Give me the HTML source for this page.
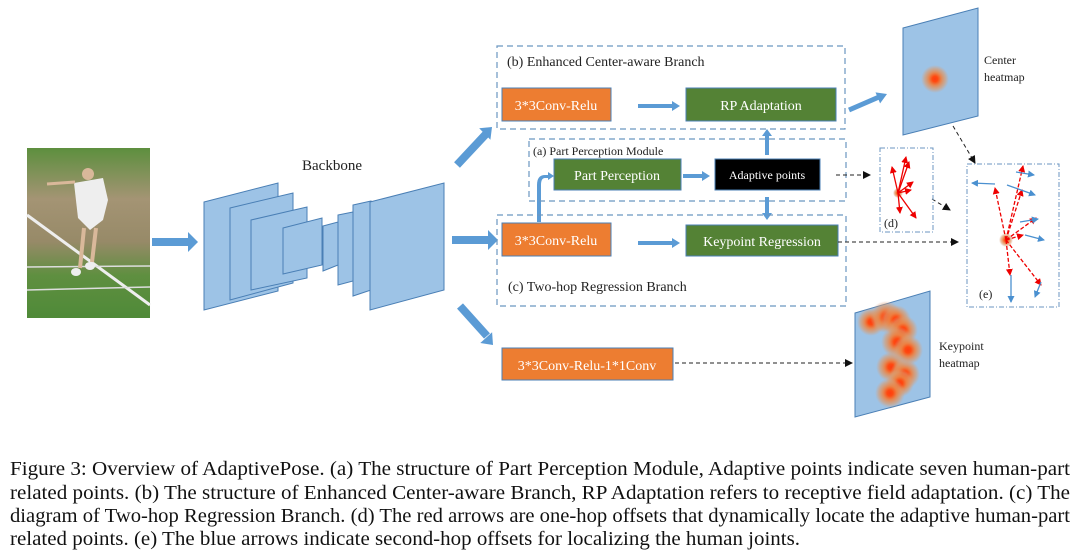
<!DOCTYPE html>
<html><head><meta charset="utf-8"><style>
html,body{margin:0;padding:0;background:#fff;}
svg{display:block;font-family:"Liberation Serif",serif;}
</style></head><body>
<svg width="1080" height="555" viewBox="0 0 1080 555" xmlns="http://www.w3.org/2000/svg">
<defs>
<marker id="ak" markerWidth="8" markerHeight="8" refX="7" refY="4" orient="auto" markerUnits="userSpaceOnUse"><path d="M0,0 L8,4 L0,8 z" fill="#111"/></marker>
<marker id="ar" markerWidth="7" markerHeight="7" refX="6" refY="3.5" orient="auto" markerUnits="userSpaceOnUse"><path d="M0,0 L7,3.5 L0,7 z" fill="#e00"/></marker>
<marker id="ab" markerWidth="7" markerHeight="7" refX="6" refY="3.5" orient="auto" markerUnits="userSpaceOnUse"><path d="M0,0 L7,3.5 L0,7 z" fill="#4a90d0"/></marker>
<radialGradient id="glow"><stop offset="0" stop-color="#ff3b10"/><stop offset="0.2" stop-color="#ff4a10"/><stop offset="0.45" stop-color="#ee8040" stop-opacity="0.9"/><stop offset="0.75" stop-color="#dc9a6a" stop-opacity="0.6"/><stop offset="1" stop-color="#d8a080" stop-opacity="0"/></radialGradient>
<linearGradient id="grass" x1="0" y1="0" x2="0" y2="1"><stop offset="0" stop-color="#5d8f3e"/><stop offset="0.3" stop-color="#a49474"/><stop offset="0.55" stop-color="#978a68"/><stop offset="0.75" stop-color="#5f8f40"/><stop offset="1" stop-color="#4f8a38"/></linearGradient>
</defs>

<!-- photo -->
<rect x="27" y="148" width="123" height="170" fill="url(#grass)"/>
<path d="M27,215 L150,305" stroke="#eee" stroke-width="3"/>
<path d="M27,267 L150,266" stroke="#ddd" stroke-width="1.5"/>
<path d="M27,290 L150,287" stroke="#ddd" stroke-width="1.5"/>
<path d="M74,183 L103,178 L108,200 L103,220 L90,230 L78,218 Z" fill="#eee"/>
<circle cx="88" cy="174" r="6" fill="#d9b89a"/>
<path d="M47,184 L75,182" stroke="#d9b89a" stroke-width="3"/>
<path d="M84,228 L80,268 M96,228 L92,262" stroke="#d9b89a" stroke-width="4"/>
<ellipse cx="76" cy="272" rx="5" ry="4" fill="#eee"/><ellipse cx="90" cy="266" rx="5" ry="4" fill="#eee"/>

<!-- fat arrows -->
<g fill="#5b9bd5">
<path d="M152,238 L188,238 L188,232 L198,242 L188,252 L188,246 L152,246 Z"/>
<path d="M452,236 L488,236 L488,230 L498,240 L488,250 L488,244 L452,244 Z"/>
<path d="M638,104 L672,104 L672,101 L680,106 L672,111 L672,108 L638,108 Z"/>
<path d="M638,241 L672,241 L672,238 L680,243 L672,248 L672,245 L638,245 Z"/>
<path d="M683,174 L702,174 L702,171 L710,176 L702,181 L702,178 L683,178 Z"/>
<path d="M765,155 L765,136 L762,136 L767,129 L772,136 L769,136 L769,155 Z"/>
<path d="M765,197 L765,213 L762,213 L767,220 L772,213 L769,213 L769,197 Z"/>
<path d="M537,222 L537,185 Q537,175 545,175 L548,175 L548,172 L554,176 L548,180 L548,178 L545,178 Q541,178 541,185 L541,222 Z"/>
<polygon points="492,127 490.4,139.7 479.2,128.3"/>
<polygon points="493,345 492.1,332.2 480.3,343"/>
<polygon points="887,94 880.1,103.4 875.5,92.4"/>
</g>
<g stroke="#5b9bd5" fill="none">
<path d="M457,165 L486,134" stroke-width="8"/>
<path d="M460,306 L487,336" stroke-width="8"/>
<path d="M849,110 L879,97" stroke-width="5"/>
</g>

<!-- backbone -->
<g fill="#9dc3e6" stroke="#4a7fb5" stroke-width="1">
<path d="M204,202 L278,183 L278,291 L204,310 Z"/>
<path d="M230,208 L293,193 L293,283 L230,300 Z"/>
<path d="M251,220 L307,207 L307,278 L251,290 Z"/>
<path d="M283,228 L322,218 L322,265 L283,274 Z"/>
<path d="M323,226 L338,222 L338,265 L323,271 Z"/>
<path d="M338,215 L353,212 L353,281 L338,285 Z"/>
<path d="M353,205 L371,201 L371,290 L353,296 Z"/>
<path d="M370,202 L444,183 L444,290 L370,310 Z"/>
</g>
<text x="302" y="170" font-size="15" fill="#222">Backbone</text>

<!-- dashed boxes -->
<g fill="none" stroke="#6b96c0" stroke-width="1.2" stroke-dasharray="6,4">
<rect x="497" y="46" width="348" height="83"/>
<rect x="529" y="139" width="317" height="62"/>
<rect x="497" y="215" width="349" height="91"/>
</g>
<text x="507" y="66" font-size="14" fill="#222">(b) Enhanced Center-aware Branch</text>
<text x="533" y="155" font-size="12" fill="#222">(a) Part Perception Module</text>
<text x="508" y="291" font-size="14" fill="#222">(c) Two-hop Regression Branch</text>

<!-- blocks -->
<g stroke="#4a7fb5" stroke-width="1">
<rect x="502" y="88" width="109" height="33" fill="#ed7d31"/>
<rect x="686" y="88" width="150" height="33" fill="#548235"/>
<rect x="554" y="159" width="127" height="31" fill="#548235"/>
<rect x="715" y="159" width="105" height="31" fill="#000"/>
<rect x="502" y="223" width="109" height="33" fill="#ed7d31"/>
<rect x="686" y="225" width="152" height="31" fill="#548235"/>
<rect x="502" y="348" width="171" height="32" fill="#ed7d31"/>
</g>
<g fill="#fff" font-size="14" text-anchor="middle">
<text x="556" y="110">3*3Conv-Relu</text>
<text x="761" y="110">RP Adaptation</text>
<text x="617" y="180">Part Perception</text>
<text x="767" y="179" font-size="12">Adaptive points</text>
<text x="556" y="245">3*3Conv-Relu</text>
<text x="762" y="246">Keypoint Regression</text>
<text x="587" y="370">3*3Conv-Relu-1*1Conv</text>
</g>

<!-- dashed black connectors -->
<g stroke="#222" stroke-width="1" stroke-dasharray="4,3" fill="none" marker-end="url(#ak)">
<path d="M836,175 L870,175"/>
<path d="M838,242 L958,242"/>
<path d="M675,363 L852,363"/>
<path d="M953,126 L975,163"/>
<path d="M932,199 L950,210"/>
</g>

<!-- heatmaps -->
<path d="M903,28 L978,8 L978,116 L903,135 Z" fill="#9dc3e6" stroke="#4a7fb5"/>
<circle cx="935" cy="79" r="14" fill="url(#glow)"/>
<text x="984" y="64" font-size="12" fill="#222">Center</text>
<text x="984" y="81" font-size="12" fill="#222">heatmap</text>

<path d="M855,313 L930,291 L930,397 L855,417 Z" fill="#9dc3e6" stroke="#4a7fb5"/>
<g>
<circle cx="871" cy="322" r="14" fill="url(#glow)"/>
<circle cx="886" cy="317" r="16" fill="url(#glow)"/>
<circle cx="896" cy="320" r="15" fill="url(#glow)"/>
<circle cx="903" cy="330" r="15" fill="url(#glow)"/>
<circle cx="897" cy="342" r="16" fill="url(#glow)"/>
<circle cx="908" cy="350" r="15" fill="url(#glow)"/>
<circle cx="891" cy="367" r="15" fill="url(#glow)"/>
<circle cx="905" cy="374" r="15" fill="url(#glow)"/>
<circle cx="900" cy="383" r="14" fill="url(#glow)"/>
<circle cx="890" cy="393" r="15" fill="url(#glow)"/>
</g>
<text x="939" y="350" font-size="12" fill="#222">Keypoint</text>
<text x="939" y="367" font-size="12" fill="#222">heatmap</text>

<!-- (d) -->
<rect x="880" y="148" width="53" height="84" fill="none" stroke="#6b96c0" stroke-dasharray="5,2,1,2"/>
<circle cx="898" cy="193" r="5" fill="url(#glow)"/>
<g stroke="#e00" stroke-width="1.3" marker-end="url(#ar)">
<path d="M898,193 L892,167"/><path d="M898,193 L906,157"/><path d="M898,193 L909,162"/>
<path d="M898,193 L913,182"/><path d="M898,193 L911,190"/><path d="M898,193 L900,213"/><path d="M898,193 L916,218"/>
</g>
<text x="884" y="227" font-size="12" fill="#222">(d)</text>

<!-- (e) -->
<rect x="967" y="164" width="92" height="143" fill="none" stroke="#6b96c0" stroke-dasharray="5,2,1,2"/>
<circle cx="1006" cy="240" r="7" fill="url(#glow)"/>
<g stroke="#e00" stroke-width="1.3" stroke-dasharray="4,2" marker-end="url(#ar)">
<path d="M1006,240 L995,188"/><path d="M1006,240 L1023,166"/><path d="M1006,240 L1022,190"/>
<path d="M1006,240 L1036,218"/><path d="M1006,240 L1023,235"/><path d="M1006,240 L1010,275"/><path d="M1006,240 L1041,285"/>
</g>
<g stroke="#4a90d0" stroke-width="1.3" marker-end="url(#ab)">
<path d="M995,184 L972,183"/><path d="M1007,185 L1035,195"/><path d="M1016,172 L1034,175"/>
<path d="M1020,222 L1038,219"/><path d="M1025,235 L1044,240"/><path d="M1011,275 L1011,302"/><path d="M1041,282 L1035,297"/>
</g>
<text x="979" y="298" font-size="12" fill="#222">(e)</text>

<!-- caption -->
<g font-size="20.5" fill="#111">
<text x="10" y="475" textLength="1060" lengthAdjust="spacingAndGlyphs">Figure 3: Overview of AdaptivePose. (a) The structure of Part Perception Module, Adaptive points indicate seven human-part</text>
<text x="10" y="499" textLength="1060" lengthAdjust="spacingAndGlyphs">related points. (b) The structure of Enhanced Center-aware Branch, RP Adaptation refers to receptive field adaptation. (c) The</text>
<text x="10" y="522" textLength="1060" lengthAdjust="spacingAndGlyphs">diagram of Two-hop Regression Branch. (d) The red arrows are one-hop offsets that dynamically locate the adaptive human-part</text>
<text x="10" y="545" textLength="790" lengthAdjust="spacingAndGlyphs">related points. (e) The blue arrows indicate second-hop offsets for localizing the human joints.</text>
</g>
</svg>
</body></html>
